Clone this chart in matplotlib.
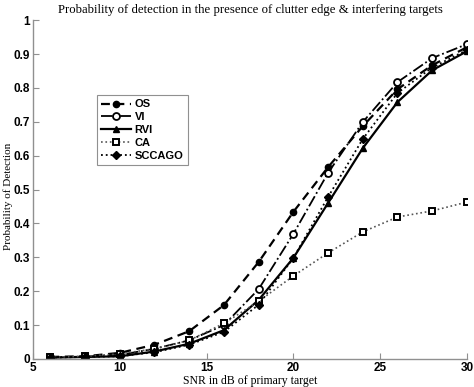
import matplotlib
matplotlib.use("Agg")
import matplotlib.pyplot as plt

# SNR points (dB) and detection probabilities
snr = [6, 8, 10, 12, 14, 16, 18, 20, 22, 24, 26, 28, 30]
pd_os = [0.006, 0.008, 0.018, 0.042, 0.082, 0.159, 0.286, 0.434, 0.566, 0.687, 0.796, 0.867, 0.920]
pd_vi = [0.005, 0.007, 0.012, 0.030, 0.055, 0.100, 0.206, 0.369, 0.549, 0.699, 0.817, 0.888, 0.929]
pd_rvi = [0.004, 0.006, 0.008, 0.022, 0.045, 0.085, 0.174, 0.298, 0.460, 0.622, 0.758, 0.852, 0.908]
pd_ca = [0.005, 0.008, 0.015, 0.030, 0.055, 0.105, 0.170, 0.245, 0.313, 0.375, 0.419, 0.437, 0.463]
pd_sccago = [0.004, 0.006, 0.008, 0.020, 0.042, 0.080, 0.160, 0.298, 0.478, 0.649, 0.785, 0.860, 0.912]

serif = ["Liberation Serif", "DejaVu Serif"]
sans = ["Liberation Sans", "DejaVu Sans"]

fig = plt.figure(figsize=(4.74, 3.87), dpi=100)
ax = fig.add_axes([0.0696, 0.0724, 0.9154, 0.8756])

ax.plot(snr, pd_os, linestyle="--", color="black", lw=1.6, marker="o", ms=4.5,
        mfc="black", mec="black", dashes=(4, 2.5), label="OS")
ax.plot(snr, pd_vi, linestyle="-.", color="black", lw=1.3, marker="o", ms=5,
        mfc="white", mec="black", mew=1.3, label="VI")
ax.plot(snr, pd_rvi, linestyle="-", color="black", lw=1.6, marker="^", ms=5,
        mfc="black", mec="black", label="RVI")
ax.plot(snr, pd_ca, linestyle=":", color="#555555", lw=1.2, marker="s", ms=4.5,
        mfc="white", mec="black", mew=1.4, label="CA")
ax.plot(snr, pd_sccago, linestyle=":", color="black", lw=1.3, marker="D", ms=4,
        mfc="black", mec="black", label="SCCAGO")

ax.set_xlim(5, 30)
ax.set_ylim(0, 1)
ax.set_xticks([5, 10, 15, 20, 25, 30])
ax.set_yticks([0, 0.1, 0.2, 0.3, 0.4, 0.5, 0.6, 0.7, 0.8, 0.9, 1])
ax.set_yticklabels(["0", "0.1", "0.2", "0.3", "0.4", "0.5", "0.6", "0.7", "0.8", "0.9", "1"])

for side in ["top", "right"]:
    ax.spines[side].set_visible(False)
for side in ["left", "bottom"]:
    ax.spines[side].set_color("#909090")
    ax.spines[side].set_linewidth(1.0)

ax.tick_params(direction="in", length=4, color="#909090", pad=2)
for lbl in ax.get_xticklabels() + ax.get_yticklabels():
    lbl.set_family(sans)
    lbl.set_fontweight("bold")
    lbl.set_fontsize(8.5)

ax.set_xlabel("SNR in dB of primary target", family=serif, fontsize=8.5, labelpad=1)
ax.set_ylabel("Probability of Detection", family=serif, fontsize=8)
ax.yaxis.set_label_coords(-0.046, 0.48)
ax.set_title("Probability of detection in the presence of clutter edge & interfering targets",
             family=serif, fontsize=9.2, pad=5)

leg = ax.legend(loc="upper left", bbox_to_anchor=(0.147, 0.779), borderaxespad=0,
                fancybox=False, edgecolor="#909090", framealpha=1, handlelength=2.7,
                handletextpad=0.3, labelspacing=0.25, borderpad=0.4,
                prop={"family": sans, "weight": "bold", "size": 8})
leg.get_frame().set_linewidth(0.8)

fig.savefig("out.png", dpi=100)
